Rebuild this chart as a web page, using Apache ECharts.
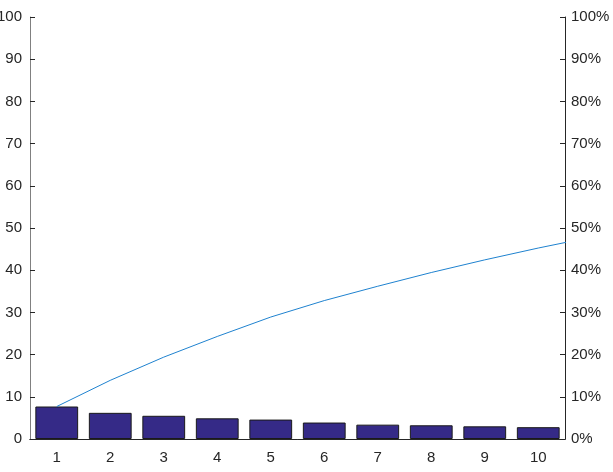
<!DOCTYPE html>
<html><head><meta charset="utf-8">
<script src="https://cdn.jsdelivr.net/npm/echarts@6/dist/echarts.min.js"></script>
<style>html,body{margin:0;padding:0;background:#fff}#c{width:613px;height:472px}</style>
</head><body><div id="c"></div>
<script>
var categories = ['1','2','3','4','5','6','7','8','9','10'];
var counts = [7.7, 6.2, 5.5, 4.9, 4.6, 3.9, 3.4, 3.25, 3.0, 2.8];
// next (not drawn as bar) item, only continues the cumulative line off the edge
var nextCount = 2.6;
var leftTicks = [0,10,20,30,40,50,60,70,80,90,100];

var cum = [], s = 0;
var all = counts.concat([nextCount]);
for (var i = 0; i < all.length; i++) { s += all[i]; cum.push([i + 1, +s.toFixed(2)]); }

var font = {fontFamily: 'Liberation Sans, Arial, sans-serif', fontSize: 15, color: '#262626'};
var chart = echarts.init(document.getElementById('c'), null, {renderer: 'canvas'});
chart.setOption({
  animation: false,
  grid: {left: 30, right: 48, top: 17, bottom: 33, containLabel: false, outerBoundsMode: 'none'},
  xAxis: [
    {type: 'category', data: categories, position: 'bottom',
     axisLine: {lineStyle: {color: '#262626', width: 1}},
     axisTick: {inside: true, length: 5, alignWithLabel: true, lineStyle: {color: '#262626'}},
     axisLabel: Object.assign({margin: 11}, font), splitLine: {show: false}},
    {type: 'category', data: categories, position: 'top',
     axisLine: {lineStyle: {color: '#262626', width: 1}},
     axisTick: {inside: true, length: 5, alignWithLabel: true, lineStyle: {color: '#262626'}},
     axisLabel: {show: false}},
    {type: 'value', min: 0.5, max: 10.5, show: false}
  ],
  yAxis: [
    {type: 'value', min: 0, max: 100, interval: 10, position: 'left',
     axisLine: {show: true, lineStyle: {color: '#808080'}},
     axisTick: {show: true, inside: true, length: 5, lineStyle: {color: '#262626'}},
     axisLabel: Object.assign({margin: 8}, font), splitLine: {show: false}},
    {type: 'value', min: 0, max: 100, interval: 10, position: 'right',
     axisLine: {show: true, lineStyle: {color: '#262626'}},
     axisTick: {show: true, inside: true, length: 5, lineStyle: {color: '#262626'}},
     axisLabel: Object.assign({margin: 6, formatter: '{value}%'}, font), splitLine: {show: false}}
  ],
  series: [
    {type: 'bar', data: counts, xAxisIndex: 0, yAxisIndex: 0, barCategoryGap: '20%',
     itemStyle: {color: '#352A87', borderColor: '#1a1a1a', borderWidth: 1}},
    {type: 'line', data: cum, xAxisIndex: 2, yAxisIndex: 1, symbol: 'none', clip: true,
     lineStyle: {color: '#1f82cf', width: 1}, z: 5}
  ]
});
</script></body></html>
